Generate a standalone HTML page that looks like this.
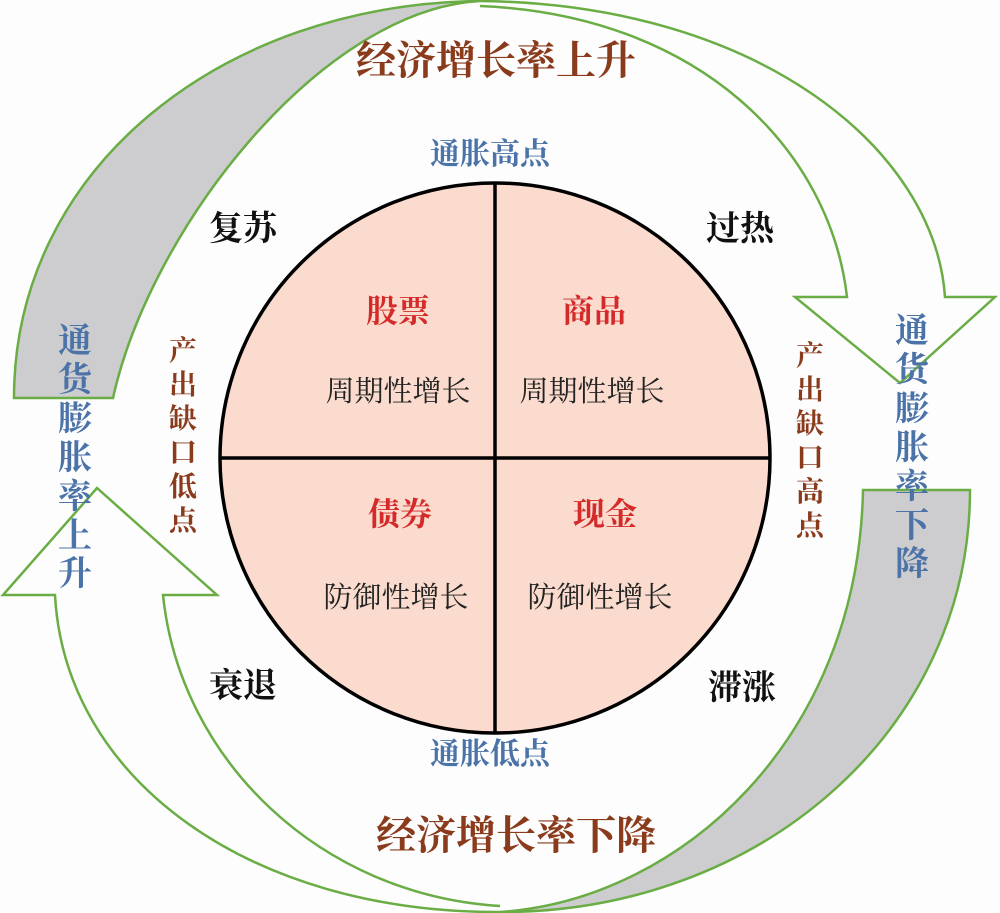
<!DOCTYPE html>
<html><head><meta charset="utf-8"><style>
html,body{margin:0;padding:0;background:#fff}
svg{display:block}
text{font-family:"Liberation Serif","Noto Serif CJK SC",serif}
</style></head><body>
<svg width="1000" height="913" viewBox="0 0 1000 913">
<rect width="1000" height="913" fill="#fdfdfe"/>
<!-- arrow 1 -->
<path d="M14,398 C14,170 220,4 480,1 C320,10 150,230 113,398 Z" fill="#cdcdcf" stroke="#6aad45" stroke-width="2.5"/>
<path d="M480,1 C760,4 935,150 945,297 L995,297 L900,383 L795,297 L847,297 C830,150 700,15 480,6" fill="none" stroke="#6aad45" stroke-width="2.5"/>
<!-- arrow 2 -->
<path d="M970,490 C970,730 760,913 500,912 C680,900 858,740 863,490 Z" fill="#cdcdcf" stroke="#6aad45" stroke-width="2.5"/>
<path d="M500,912 C250,913 65,780 55,595 L3,595 L97,488 L217,595 L163,595 C180,760 320,895 500,906" fill="none" stroke="#6aad45" stroke-width="2.5"/>
<!-- circle -->
<circle cx="495" cy="458" r="275" fill="#fadbcd" stroke="#000" stroke-width="3.5"/>
<line x1="495" y1="183" x2="495" y2="733" stroke="#000" stroke-width="3.5"/>
<line x1="220" y1="458" x2="770" y2="458" stroke="#000" stroke-width="3.5"/>
<g text-anchor="middle">
<text x="496" y="74" font-size="40" fill="#8a3b1c" font-weight="bold">经济增长率上升</text>
<text x="516" y="849" font-size="40" fill="#8a3b1c" font-weight="bold">经济增长率下降</text>
<text x="490" y="164" font-size="30" fill="#4b73a8" font-weight="bold">通胀高点</text>
<text x="490" y="764" font-size="30" fill="#4b73a8" font-weight="bold">通胀低点</text>
<g font-weight="bold">
<text x="243" y="240" font-size="34" fill="#111">复苏</text>
<text x="740" y="240" font-size="34" fill="#111">过热</text>
<text x="243" y="697" font-size="34" fill="#111">衰退</text>
<text x="742" y="699" font-size="34" fill="#111">滞涨</text>
</g>
<text x="398" y="322" font-size="32" fill="#d42a2a" font-weight="bold">股票</text>
<text x="594" y="322" font-size="32" fill="#d42a2a" font-weight="bold">商品</text>
<text x="400" y="525" font-size="32" fill="#d42a2a" font-weight="bold">债券</text>
<text x="605" y="525" font-size="32" fill="#d42a2a" font-weight="bold">现金</text>
<text x="398" y="401" font-size="29" fill="#222" font-family="Liberation Sans,Noto Sans CJK SC,sans-serif">周期性增长</text>
<text x="592" y="401" font-size="29" fill="#222" font-family="Liberation Sans,Noto Sans CJK SC,sans-serif">周期性增长</text>
<text x="396" y="607" font-size="29" fill="#222" font-family="Liberation Sans,Noto Sans CJK SC,sans-serif">防御性增长</text>
<text x="600" y="607" font-size="29" fill="#222" font-family="Liberation Sans,Noto Sans CJK SC,sans-serif">防御性增长</text>
<g font-size="34" fill="#4b73a8" font-weight="bold">
<text x="75" y="352">通</text><text x="75" y="391">货</text><text x="75" y="430">膨</text><text x="75" y="469">胀</text><text x="75" y="508">率</text><text x="75" y="547">上</text><text x="75" y="585">升</text>
<text x="912" y="342">通</text><text x="912" y="381">货</text><text x="912" y="420">膨</text><text x="912" y="459">胀</text><text x="912" y="498">率</text><text x="912" y="537">下</text><text x="912" y="575">降</text>
</g>
<g font-size="28" fill="#8a3b1c" font-weight="bold">
<text x="183" y="360">产</text><text x="183" y="394">出</text><text x="183" y="428">缺</text><text x="183" y="462">口</text><text x="183" y="496">低</text><text x="183" y="530">点</text>
<text x="810" y="365">产</text><text x="810" y="399">出</text><text x="810" y="433">缺</text><text x="810" y="467">口</text><text x="810" y="501">高</text><text x="810" y="535">点</text>
</g>
</g>
</svg>
</body></html>
